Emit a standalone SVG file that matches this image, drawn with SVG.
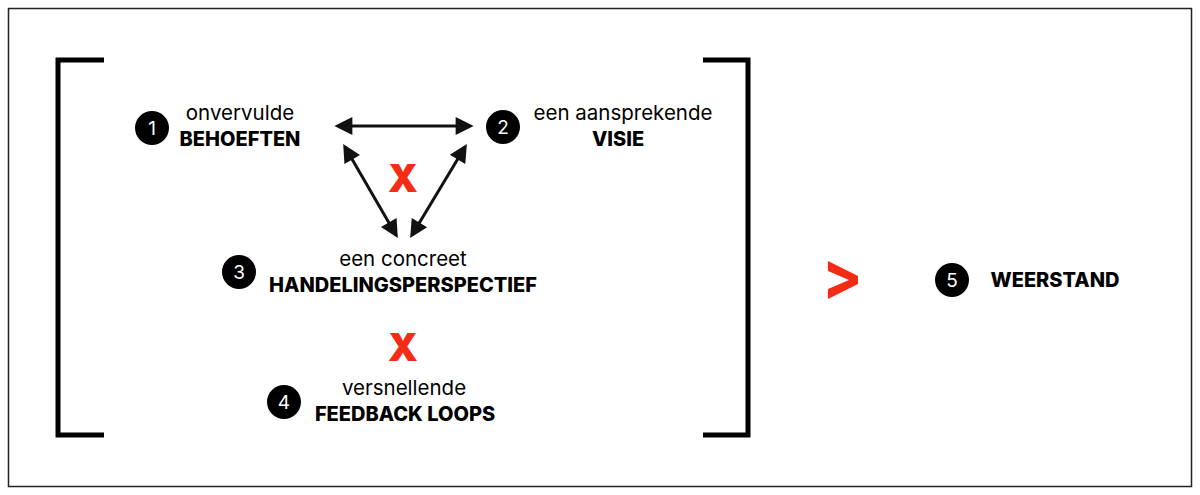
<svg xmlns="http://www.w3.org/2000/svg" width="1200" height="495" viewBox="0 0 1200 495">
<style>
.n{font-family:Inter,"Liberation Sans",sans-serif;font-size:20.5px;fill:#000;text-anchor:middle}
.b{font-weight:800;font-size:20px}
.num{font-family:Inter,"Liberation Sans",sans-serif;font-size:19px;fill:#fff;text-anchor:middle}
.br{fill:none;stroke:#000;stroke-width:5}
.c{stroke:#111;stroke-width:3;fill:none;marker-start:url(#a);marker-end:url(#a)}
.x{font-family:Inter,"Liberation Sans",sans-serif;font-weight:900;font-size:38px;fill:#f42c16;text-anchor:middle}
</style>
<defs>
<marker id="a" viewBox="0 0 10 10" refX="8" refY="5" markerWidth="7" markerHeight="6" orient="auto-start-reverse" markerUnits="strokeWidth"><path d="M0,0L10,5L0,10z" fill="#111"/></marker>
</defs>
<rect x="0" y="0" width="1200" height="495" fill="#fff"/>
<rect x="8.5" y="8.5" width="1183" height="478" fill="none" stroke="#222" stroke-width="1.5"/>
<path class="br" d="M104,60H58V435H104"/>
<path class="br" d="M703,60H748V435H703"/>
<g id="connectors">
<line class="c" x1="338" y1="126" x2="470" y2="126"/>
<line class="c" x1="345" y1="147" x2="396" y2="235"/>
<line class="c" x1="465" y1="147" x2="412" y2="235"/>
</g>
<g id="n1"><circle cx="152" cy="128" r="17"/><text class="num" x="152" y="135">1</text>
<text class="n" x="240" y="120">onvervulde</text><text class="n b" x="240" y="146">BEHOEFTEN</text></g>
<g id="n2"><circle cx="503" cy="127" r="17"/><text class="num" x="503" y="134">2</text>
<text class="n" x="623" y="120">een aansprekende</text><text class="n b" x="618" y="146">VISIE</text></g>
<g id="n3"><circle cx="239" cy="272" r="17"/><text class="num" x="239" y="279">3</text>
<text class="n" x="403" y="266">een concreet</text><text class="n b" x="403" y="292">HANDELINGSPERSPECTIEF</text></g>
<g id="n4"><circle cx="284" cy="402" r="17"/><text class="num" x="284" y="409">4</text>
<text class="n" x="404" y="395">versnellende</text><text class="n b" x="405" y="421">FEEDBACK LOOPS</text></g>
<g id="n5"><circle cx="952" cy="280" r="17"/><text class="num" x="952" y="287">5</text>
<text class="n b" x="1055" y="287">WEERSTAND</text></g>
<text class="x" x="403" y="192">X</text>
<text class="x" x="403" y="361">X</text>
<path d="M828,261L858,276V284L828,299V289L849,280L828,271z" fill="#f42c16"/>
</svg>
